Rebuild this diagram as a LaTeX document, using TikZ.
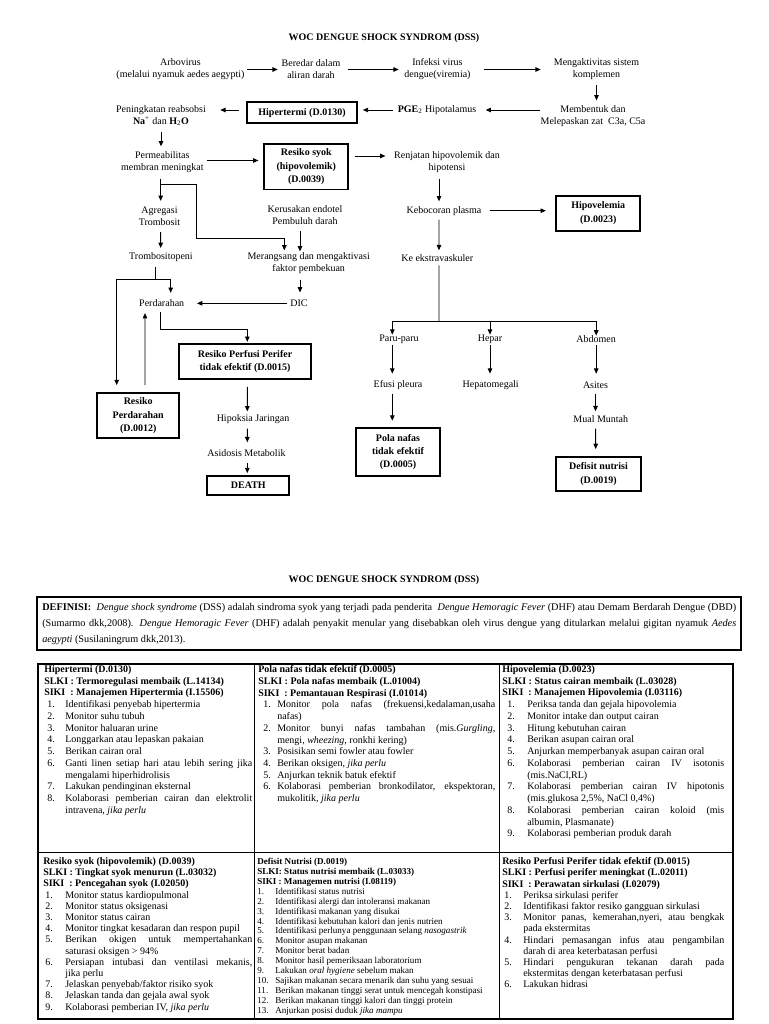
\documentclass[tikz,border=0pt]{standalone}
\usepackage{fontspec}
\setmainfont{Liberation Serif}
\usetikzlibrary{arrows.meta,calc}
\newlength{\nin}
\newlength{\tin}
\newcommand{\tabhd}[1]{\par\noindent\textbf{#1}}
\newcommand{\tabli}[2]{\par\noindent\hspace*{\nin}\makebox[\dimexpr\tin-\nin\relax][l]{#1}#2}
\newcommand{\tablii}[3]{\par\noindent\hspace*{\nin}\makebox[\dimexpr\tin-\nin\relax][l]{#1}\makebox[\dimexpr\linewidth-\tin\relax][s]{#2}\par\noindent\hspace*{\tin}#3}
\begin{document}
\begin{tikzpicture}[x=0.75pt,y=-0.75pt,
  txt/.style={inner sep=0pt, align=center, font=\fontsize{7.5}{9}\selectfont},
  ttl/.style={inner sep=0pt, font=\bfseries\fontsize{7.5}{9}\selectfont},
  bx/.style={draw, line width=1.3pt, inner sep=0pt, align=center, font=\bfseries\fontsize{7.5}{10}\selectfont},
  arr/.style={-{Triangle[length=4pt,width=3.4pt]}, line width=0.7pt},
  ln/.style={line width=0.7pt},
  cell/.style={anchor=north west, inner sep=0pt, font=\fontsize{7.5}{8.8}\selectfont},
  cellb/.style={anchor=north west, inner sep=0pt, font=\fontsize{7.5}{8.4}\selectfont},
  cellsm/.style={anchor=north west, inner sep=0pt, font=\fontsize{6.8}{7.45}\selectfont}]
\useasboundingbox (0,0) rectangle (768,1024);
\fill[white] (0,0) rectangle (768,1024);

% ---------- titles ----------
\node[ttl] (t1) at (384,38) {WOC DENGUE SHOCK SYNDROM (DSS)};

% ---------- diagram nodes ----------
\node[txt] (arbo) at (180.5,69.5) {Arbovirus\\(melalui nyamuk aedes aegypti)};
\node[txt] (bered) at (311,69.5) {Beredar dalam\\aliran darah};
\node[txt] (infek) at (437.5,69.5) {Infeksi virus\\dengue(viremia)};
\node[txt] (meng) at (596.5,69.5) {Mengaktivitas sistem\\komplemen};
\node[txt] (memb) at (593,116) {Membentuk dan\\Melepaskan zat\ \ C3a, C5a};
\node[txt] (pge) at (437,110) {\textbf{PGE}\textsubscript{2} Hipotalamus};
\node[bx, minimum width=83pt, minimum height=15.75pt] (hiper) at (302,112.8) {Hipertermi (D.0130)};
\node[txt] (pening) at (161,115.5) {Peningkatan reabsobsi\\\textbf{Na}\textsuperscript{+} dan \textbf{H}\textsubscript{2}\textbf{O}};
\node[txt] (perm) at (162.3,162.5) {Permeabilitas\\membran meningkat};
\node[bx, minimum width=63pt, minimum height=34pt] (rsyok) at (306.3,166.7) {Resiko syok\\(hipovolemik)\\(D.0039)};
\node[txt] (renj) at (447,162) {Renjatan hipovolemik dan\\hipotensi};
\node[txt] (kebo) at (444,210.7) {Kebocoran plasma};
\node[bx, minimum width=62.8pt, minimum height=26.25pt] (hipov) at (598.2,213.2) {Hipovelemia\\(D.0023)};
\node[txt] (keek) at (437.3,258.3) {Ke ekstravaskuler};
\node[txt] (paru) at (399,339.3) {Paru-paru};
\node[txt] (hepar) at (490,339.3) {Hepar};
\node[txt] (abdo) at (596.2,339.3) {Abdomen};
\node[txt] (efusi) at (398,385) {Efusi pleura};
\node[txt] (hepato) at (490.7,385) {Hepatomegali};
\node[txt] (asites) at (595.5,385) {Asites};
\node[txt] (mual) at (600.8,419.3) {Mual Muntah};
\node[bx, minimum width=63pt, minimum height=35.8pt] (pola) at (398,452) {Pola nafas\\tidak efektif\\(D.0005)};
\node[bx, minimum width=63.75pt, minimum height=25.3pt] (defis) at (598.5,474) {Defisit nutrisi\\(D.0019)};
\node[txt] (agreg) at (159.5,216) {Agregasi\\Trombosit};
\node[txt] (tromb) at (161,256.7) {Trombositopeni};
\node[txt] (kerus) at (305,215.3) {Kerusakan endotel\\Pembuluh darah};
\node[txt] (meran) at (308.7,263) {Merangsang dan mengaktivasi\\faktor pembekuan};
\node[txt] (dic) at (299,303.3) {DIC};
\node[txt] (perd) at (161.7,303.3) {Perdarahan};
\node[bx, minimum width=61.7pt, minimum height=33.75pt] (rperd) at (138.2,415.8) {Resiko\\Perdarahan\\(D.0012)};
\node[bx, minimum width=98.5pt, minimum height=26.25pt] (rperf) at (245,361.8) {Resiko Perfusi Perifer\\tidak efektif (D.0015)};
\node[txt] (hipok) at (253,419.3) {Hipoksia Jaringan};
\node[txt] (asid) at (246.5,453.3) {Asidosis Metabolik};
\node[bx, minimum width=61.5pt, minimum height=14.25pt] (death) at (248.3,485.5) {DEATH};

\coordinate (jx) at (439,321.7);
\coordinate (jp) at (160.7,184);
\coordinate (jt) at (155,279.3);

% ---------- connectors ----------
\draw[arr, shorten <=1.9pt, shorten >=2.8pt] (arbo.east) -- (bered.west);
\draw[arr, shorten <=5.8pt, shorten >=4.1pt] (bered.east) -- (infek.west);
\draw[arr, shorten <=10.1pt, shorten >=9.7pt] (infek.east) -- (meng.west);
\draw[arr, shorten <=3.75pt, shorten >=3.6pt] (meng.south) -- (meng.south |- memb.north);
\draw[arr, shorten >=6.9pt] (memb.west |- pge) -- (pge.east);
\draw[arr, shorten <=3.4pt, shorten >=3.5pt] (pge.west) -- (pge.west -| hiper.east);
\draw[arr, shorten <=5pt, shorten >=10.6pt] (hiper.west |- pge) -- (pening.east |- pge);
\draw[arr, shorten <=4.9pt, shorten >=4pt] (pening.south) -- (pening.south |- perm.north);
\draw[arr, shorten <=2.4pt, shorten >=3.75pt] ($(perm.east)+(0,-2)$) -- ($(perm.east -| rsyok.west)+(0,-2)$);
\draw[arr, shorten <=4.3pt, shorten >=6.4pt] ($(rsyok.east)+(0,-10.7)$) -- ($(renj.west)+(0,-6)$);
\draw[arr, shorten <=4.4pt, shorten >=3.4pt] ($(renj.south)+(-8,0)$) -- ($(kebo.north)+(-5,0)$);
\draw[arr, shorten <=6.5pt, shorten >=7.2pt] (kebo.east) -- (kebo.east -| hipov.west);
\draw[arr, shorten <=3.1pt, shorten >=3.2pt] ($(kebo.south)+(-5,0)$) -- ($(keek.north)+(1.7,0)$);
\draw[ln, shorten <=2.5pt] ($(keek.south)+(1.7,0)$) -- (jx);
\draw[arr] (jx) -| ($(paru.north)+(-6.7,0)$);
\draw[arr] (jx) -| (hepar.north);
\draw[arr] (jx) -| (abdo.north);
\draw[arr, shorten <=0.9pt, shorten >=4.9pt] ($(paru.south)+(-6.7,0)$) -- ($(efusi.north)+(-5.7,0)$);
\draw[arr, shorten <=0.9pt, shorten >=4.9pt] (hepar.south) -- (hepar.south |- hepato.north);
\draw[arr, shorten <=1.7pt, shorten >=5.7pt] (abdo.south) -- (abdo.south |- asites.north);
\draw[arr, shorten <=2.9pt, shorten >=4.9pt] ($(efusi.south)+(-5.7,0)$) -- ($(pola.north)+(-5.7,0)$);
\draw[arr, shorten <=4.2pt, shorten >=3.2pt] (asites.south) -- (asites.south |- mual.north);
\draw[arr, shorten <=4.2pt, shorten >=5.4pt] ($(mual.south)+(-5.1,0)$) -- ($(defis.north)+(-2.8,0)$);

\draw[arr, shorten <=4pt, shorten >=4.1pt] ($(perm.south)+(-1.6,0)$) -- ($(agreg.north)+(1.2,0)$);
\draw[arr, shorten >=1.35pt] (jp) -- ++(36,0) -- ++(0,54.7) -| ($(meran.north)+(-24.4,0)$);
\draw[arr, shorten <=4.8pt, shorten >=2.9pt] ($(agreg.south)+(1.2,0)$) -- ($(tromb.north)+(-0.3,0)$);
\draw[arr, shorten <=4.8pt, shorten >=0.6pt] ($(kerus.south)+(-5,0)$) -- ($(meran.north)+(-8.7,0)$);
\draw[arr, shorten <=4.4pt, shorten >=5.4pt] ($(meran.south)+(-8.7,0)$) -- ($(dic.north)+(1,0)$);
\draw[arr, shorten <=2.3pt, shorten >=9.4pt] (dic.west) -- (dic.west -| perd.east);
\draw[ln, shorten <=4.1pt] ($(tromb.south)+(-6,0)$) -- (jt);
\draw[arr, shorten >=5pt] (jt) -| ($(perd.north)+(9,0)$);
\draw[arr, shorten >=5.5pt] (jt) -| ($(rperd.north)+(-21.5,0)$);
\draw[arr, shorten <=5.5pt, shorten >=4.5pt] ($(rperd.north)+(6.8,0)$) -- ($(perd.south)+(-16.7,0)$);
\draw[arr, shorten <=3.75pt, shorten >=1.2pt] ($(perd.south)+(-1,0)$) -- ($(perd.south)+(-1,22.3)$) -| ($(rperf.north)+(2.3,0)$);
\draw[arr, shorten <=5pt, shorten >=2.3pt] ($(rperf.south)+(2.3,0)$) -- ($(hipok.north)+(-5.7,0)$);
\draw[arr, shorten <=3.4pt, shorten >=5.4pt] ($(hipok.south)+(-5.7,0)$) -- ($(asid.north)+(0.8,0)$);
\draw[arr, shorten <=4.5pt, shorten >=1.5pt] ($(asid.south)+(0.8,0)$) -- ($(death.north)+(-1,0)$);

% ---------- second part ----------
\node[ttl] (t2) at (384,580) {WOC DENGUE SHOCK SYNDROM (DSS)};

\draw[line width=0.8pt] (37,597) rectangle (741,650);
\node[anchor=north west, inner sep=0pt, font=\fontsize{7.7}{12}\selectfont] (def) at (42,603.3) {\parbox[t]{520.5pt}{%
\noindent\makebox[\linewidth][s]{\textbf{DEFINISI:}\ \ \textit{Dengue shock syndrome} (DSS) adalah sindroma syok yang terjadi pada penderita\ \ \textit{Dengue Hemoragic Fever} (DHF) atau Demam Berdarah Dengue (DBD)}\par
\noindent\makebox[\linewidth][s]{(Sumarmo dkk,2008). \textit{Dengue Hemoragic Fever} (DHF) adalah penyakit menular yang disebabkan oleh virus dengue yang ditularkan melalui gigitan nyamuk \textit{Aedes}}\par
\noindent\textit{aegypti} (Susilaningrum dkk,2013).}};

% table grid
\draw[line width=0.9pt] (38,664) rectangle (733,1019);
\draw[line width=0.7pt] (254,664) -- (254,1019);
\draw[line width=0.7pt] (499,664) -- (499,1019);
\draw[line width=0.7pt] (38,852) -- (733,852);

% row 1
\node[cell] (c11) at (44,665.3) {\setlength{\nin}{2.25pt}\setlength{\tin}{15.75pt}\parbox[t]{156pt}{%
\tabhd{Hipertermi (D.0130)}
\tabhd{SLKI : Termoregulasi membaik (L.14134)}
\tabhd{SIKI\ \ : Manajemen Hipertermia (I.15506)}
\tabli{1.}{Identifikasi penyebab hipertermia}
\tabli{2.}{Monitor suhu tubuh}
\tabli{3.}{Monitor haluaran urine}
\tabli{4.}{Longgarkan atau lepaskan pakaian}
\tabli{5.}{Berikan cairan oral}
\tablii{6.}{Ganti linen setiap hari atau lebih sering jika}{mengalami hiperhidrolisis}
\tabli{7.}{Lakukan pendinginan eksternal}
\tablii{8.}{Kolaborasi pemberian cairan dan elektrolit}{intravena, \textit{jika perlu}}}};

\node[cell] (c12) at (258,665.3) {\setlength{\nin}{3.75pt}\setlength{\tin}{14.25pt}\parbox[t]{177.75pt}{%
\tabhd{Pola nafas tidak efektif (D.0005)}
\tabhd{SLKI : Pola nafas membaik (L.01004)}
\tabhd{SIKI\ \ : Pemantauan Respirasi (I.01014)}
\tablii{1.}{Monitor pola nafas (frekuensi,kedalaman,usaha}{nafas)}
\tablii{2.}{Monitor bunyi nafas tambahan (mis.\textit{Gurgling},}{mengi, \textit{wheezing}, ronkhi kering)}
\tabli{3.}{Posisikan semi fowler atau fowler}
\tabli{4.}{Berikan oksigen, \textit{jika perlu}}
\tabli{5.}{Anjurkan teknik batuk efektif}
\tablii{6.}{Kolaborasi pemberian bronkodilator, ekspektoran,}{mukolitik, \textit{jika perlu}}}};

\node[cell] (c13) at (502,665.3) {\setlength{\nin}{3.75pt}\setlength{\tin}{18.75pt}\parbox[t]{166.5pt}{%
\tabhd{Hipovelemia (D.0023)}
\tabhd{SLKI : Status cairan membaik (L.03028)}
\tabhd{SIKI\ \ : Manajemen Hipovolemia (I.03116)}
\tabli{1.}{Periksa tanda dan gejala hipovolemia}
\tabli{2.}{Monitor intake dan output cairan}
\tabli{3.}{Hitung kebutuhan cairan}
\tabli{4.}{Berikan asupan cairan oral}
\tabli{5.}{Anjurkan memperbanyak asupan cairan oral}
\tablii{6.}{Kolaborasi pemberian cairan IV isotonis}{(mis.NaCl,RL)}
\tablii{7.}{Kolaborasi pemberian cairan IV hipotonis}{(mis.glukosa 2,5\%, NaCl 0,4\%)}
\tablii{8.}{Kolaborasi pemberian cairan koloid (mis}{albumin, Plasmanate)}
\tabli{9.}{Kolaborasi pemberian produk darah}}};

% row 2
\node[cellb] (c21) at (43,857.3) {\setlength{\nin}{1.5pt}\setlength{\tin}{16.5pt}\parbox[t]{156.75pt}{%
\tabhd{Resiko syok (hipovolemik) (D.0039)}
\tabhd{SLKI : Tingkat syok menurun (L.03032)}
\tabhd{SIKI\ \ : Pencegahan syok (I.02050)}
\tabli{1.}{Monitor status kardiopulmonal}
\tabli{2.}{Monitor status oksigenasi}
\tabli{3.}{Monitor status cairan}
\tabli{4.}{Monitor tingkat kesadaran dan respon pupil}
\tablii{5.}{Berikan okigen untuk mempertahankan}{saturasi oksigen > 94\%}
\tablii{6.}{Persiapan intubasi dan ventilasi mekanis,}{jika perlu}
\tabli{7.}{Jelaskan penyebab/faktor risiko syok}
\tabli{8.}{Jelaskan tanda dan gejala awal syok}
\tabli{9.}{Kolaborasi pemberian IV, \textit{jika perlu}}}};

\node[cellsm] (c22) at (257,857.8) {\setlength{\nin}{0pt}\setlength{\tin}{13.5pt}\parbox[t]{178.5pt}{%
\tabhd{Defisit Nutrisi (D.0019)}
\tabhd{SLKI: Status nutrisi membaik (L.03033)}
\tabhd{SIKI : Managemen nutrisi (I.08119)}
\tabli{1.}{Identifikasi status nutrisi}
\tabli{2.}{Identifikasi alergi dan intoleransi makanan}
\tabli{3.}{Identifikasi makanan yang disukai}
\tabli{4.}{Identifikasi kebutuhan kalori dan jenis nutrien}
\tabli{5.}{Identifikasi perlunya penggunaan selang \textit{nasogastrik}}
\tabli{6.}{Monitor asupan makanan}
\tabli{7.}{Monitor berat badan}
\tabli{8.}{Monitor hasil pemeriksaan laboratorium}
\tabli{9.}{Lakukan \textit{oral hygiene} sebelum makan}
\tabli{10.}{Sajikan makanan secara menarik dan suhu yang sesuai}
\tabli{11.}{Berikan makanan tinggi serat untuk mencegah konstipasi}
\tabli{12.}{Berikan makanan tinggi kalori dan tinggi protein}
\tabli{13.}{Anjurkan posisi duduk \textit{jika mampu}}}};

\node[cellb] (c23) at (502,857.3) {\setlength{\nin}{1.5pt}\setlength{\tin}{15.75pt}\parbox[t]{166.5pt}{%
\tabhd{Resiko Perfusi Perifer tidak efektif (D.0015)}
\tabhd{SLKI : Perfusi perifer meningkat (L.02011)}
\tabhd{SIKI\ \ : Perawatan sirkulasi (I.02079)}
\tabli{1.}{Periksa sirkulasi perifer}
\tabli{2.}{Identifikasi faktor resiko gangguan sirkulasi}
\tablii{3.}{Monitor panas, kemerahan,nyeri, atau bengkak}{pada ekstermitas}
\tablii{4.}{Hindari pemasangan infus atau pengambilan}{darah di area keterbatasan perfusi}
\tablii{5.}{Hindari pengukuran tekanan darah pada}{ekstermitas dengan keterbatasan perfusi}
\tabli{6.}{Lakukan hidrasi}}};
\end{tikzpicture}
\end{document}
